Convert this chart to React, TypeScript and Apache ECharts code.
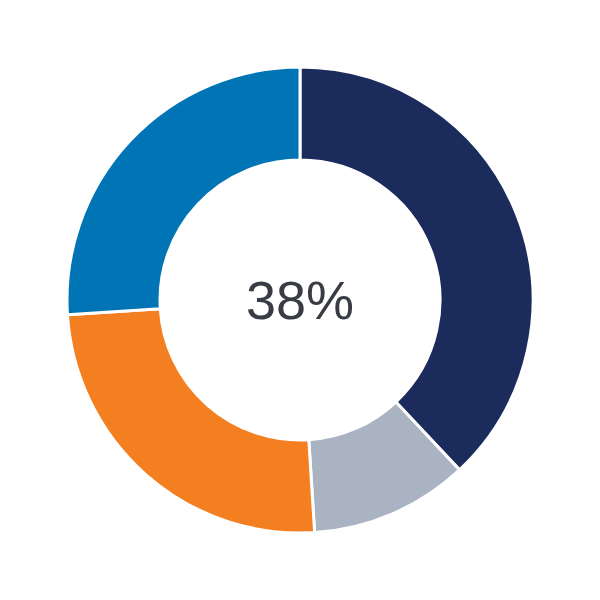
import React, { useEffect, useRef } from 'react';
import * as echarts from 'echarts';

const categories = ['Navy', 'Gray', 'Orange', 'Blue'];
const values = [38, 11, 25, 26];
const colors = ['#1b2b5b', '#a9b3c2', '#f37f21', '#0074b4'];
const centerLabel = '38%';

const App: React.FC = () => {
    const chartRef = useRef<HTMLDivElement>(null);

    useEffect(() => {
        if (!chartRef.current) return;
        const chart = echarts.init(chartRef.current, null, { renderer: 'svg' });

        const option: echarts.EChartsOption = {
            animation: false,
            backgroundColor: '#ffffff',
            title: {
                text: centerLabel,
                left: 'center',
                top: 'middle',
                textStyle: {
                    fontFamily: 'Liberation Sans, Arial, sans-serif',
                    fontSize: 54,
                    fontWeight: 'normal',
                    color: '#393c44',
                },
            },
            series: [
                {
                    type: 'pie',
                    center: ['50%', '50%'],
                    radius: [140, 233],
                    startAngle: 90,
                    clockwise: true,
                    label: { show: false },
                    labelLine: { show: false },
                    emphasis: { disabled: true },
                    itemStyle: {
                        borderColor: '#ffffff',
                        borderWidth: 3,
                    },
                    data: categories.map((name, i) => ({
                        name,
                        value: values[i],
                        itemStyle: { color: colors[i] },
                    })),
                },
            ],
        };

        chart.setOption(option);

        return () => {
            chart.dispose();
        };
    }, []);

    return (
        <div
            ref={chartRef}
            style={{ position: 'fixed', left: 0, top: 0, width: 600, height: 600 }}
        />
    );
};

export default App;
